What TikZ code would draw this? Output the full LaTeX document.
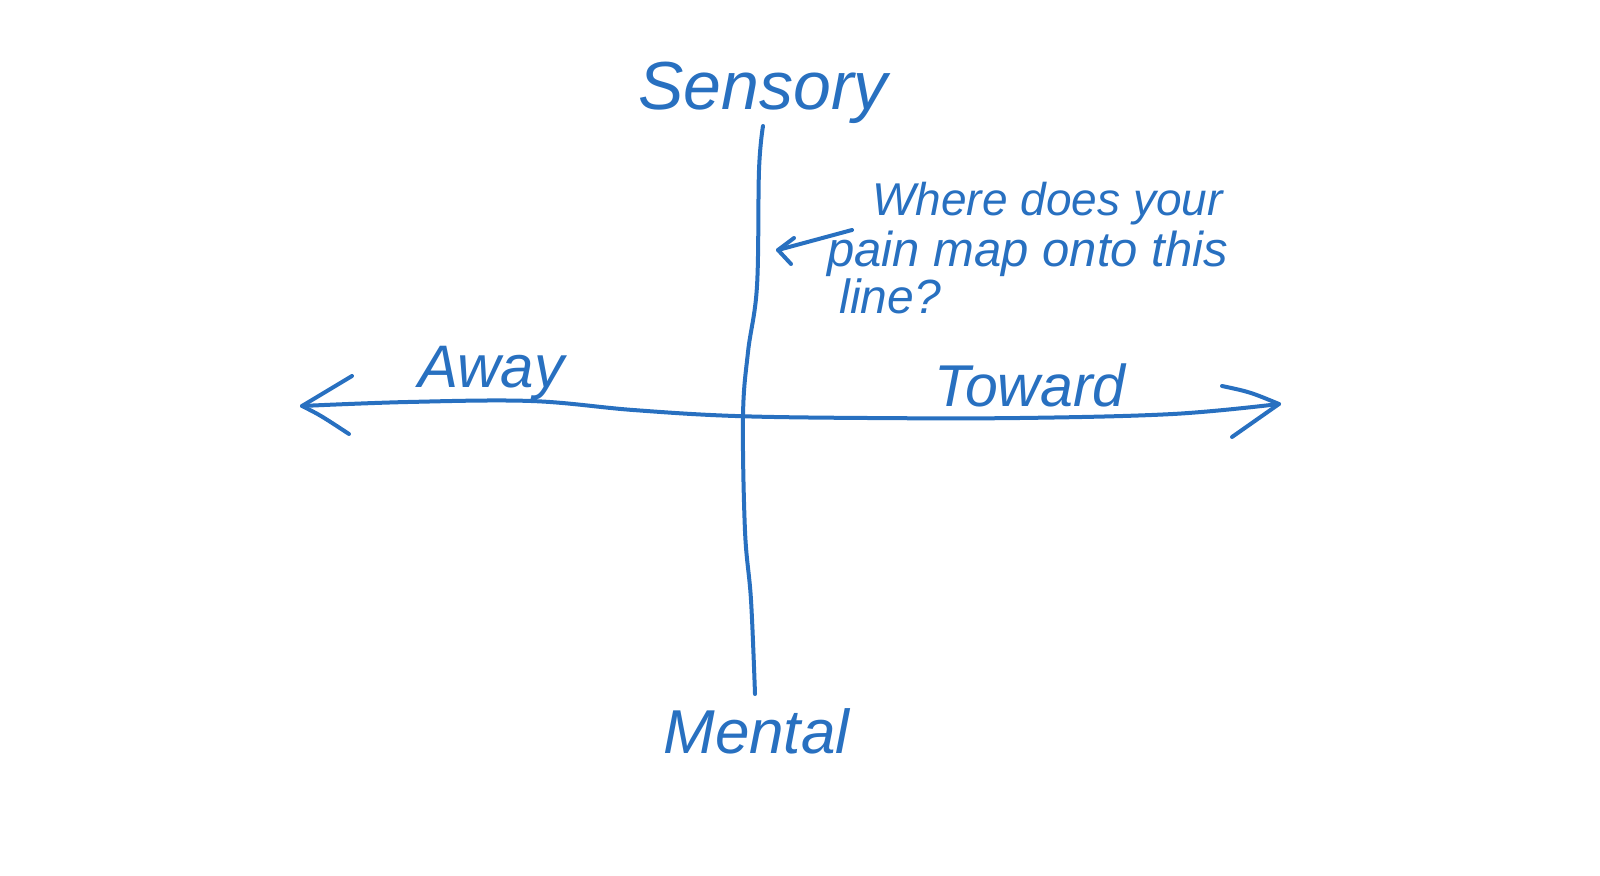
\documentclass[tikz,border=0pt]{standalone}
\usepackage{fontspec}
\setmainfont{Liberation Sans}
\definecolor{ink}{RGB}{40,112,192}
\begin{document}
\begin{tikzpicture}[x=0.5pt,y=-0.5pt,
  pen/.style={draw=ink,line width=2pt,line cap=round,line join=round},
  hand/.style={text=ink,inner sep=0pt,anchor=base west,font=\itshape}]
\useasboundingbox (0,0) rectangle (1600,876);
% horizontal axis
\coordinate (L) at (302,406);
\coordinate (R) at (1279,404);
\coordinate (h1) at (408,402);
\coordinate (h2) at (531,401);
\coordinate (h3) at (633,410);
\coordinate (h4) at (735,416);
\coordinate (h5) at (867,418);
\coordinate (h6) at (1020,418);
\coordinate (h7) at (1173,414);
\draw[pen] plot[smooth,tension=0.6] coordinates {(L) (h1) (h2) (h3) (h4) (h5) (h6) (h7) (R)};
\coordinate (La) at (352,376);
\coordinate (Lb) at (349,434);
\draw[pen] (La) -- (L) .. controls (320,415) .. (Lb);
\coordinate (Ra) at (1222,386);
\coordinate (Rb) at (1232,437);
\draw[pen] (Ra) .. controls (1250,392) .. (R) -- (Rb);
% vertical axis
\coordinate (T) at (763,126);
\coordinate (B) at (755,694);
\coordinate (v1) at (759,170);
\coordinate (v2) at (757,286);
\coordinate (v3) at (748,352);
\coordinate (v4) at (743,416);
\coordinate (v5) at (745,531);
\coordinate (v6) at (751,600);
\draw[pen] plot[smooth,tension=0.6] coordinates {(T) (v1) (v2) (v3) (v4) (v5) (v6) (B)};
% small arrow
\coordinate (s0) at (852,230);
\coordinate (s1) at (778,250);
\coordinate (sa) at (794,238);
\coordinate (sb) at (791,264);
\draw[pen] (s0) -- (s1);
\draw[pen] (sa) -- (s1) -- (sb);
% labels
\node[hand,font=\itshape\fontsize{34}{36}\selectfont] (sens) at (638,110) {Sensory};
\node[hand,font=\itshape\fontsize{31}{34}\selectfont] (ment) at (663,753) {Mental};
\node[hand,font=\itshape\fontsize{30}{33}\selectfont] (away) at (418,388) {Away};
\node[hand,font=\itshape\fontsize{29.5}{32}\selectfont] (tow) at (934,407) {Toward};
\node[hand,font=\itshape\fontsize{23}{25}\selectfont] (q1) at (872,216) {Where does your};
\node[hand,font=\itshape\fontsize{24.5}{25}\selectfont] (q2) at (827,267) {pain map onto this};
\node[hand,font=\itshape\fontsize{24}{25}\selectfont] (q3) at (839,314) {line?};
\end{tikzpicture}
\end{document}
